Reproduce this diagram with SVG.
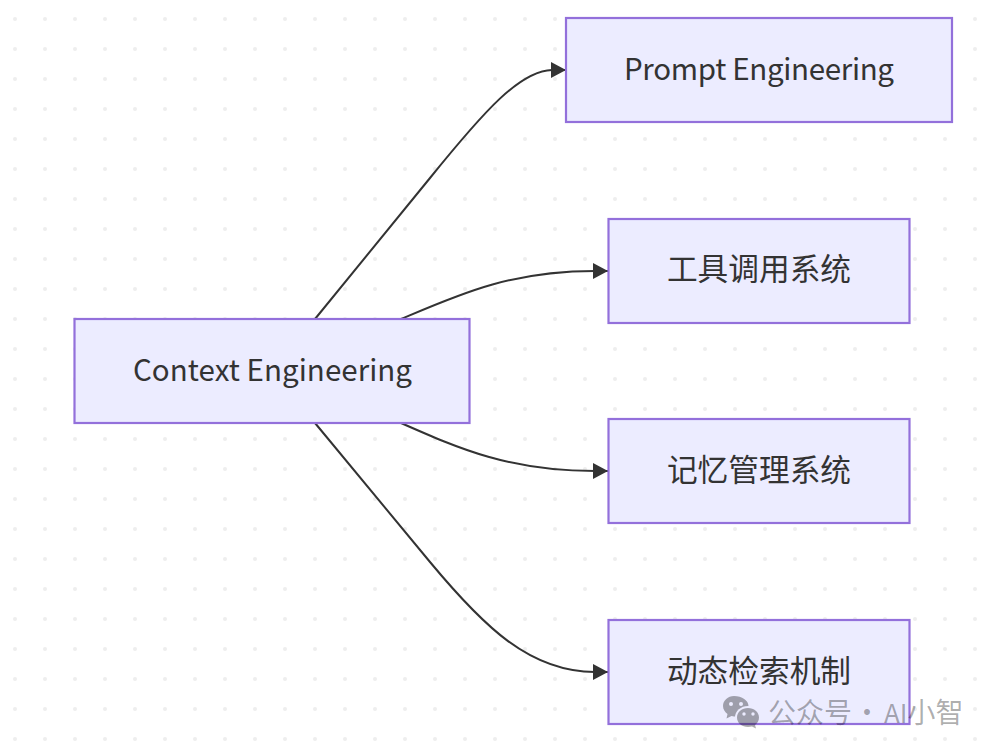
<svg xmlns="http://www.w3.org/2000/svg" width="995" height="753" viewBox="0 0 995 753">
<style>
.n{fill:#ececff;stroke:#9370db;stroke-width:2.2}
.t{font-family:"Noto Sans CJK SC","Noto Sans",sans-serif;fill:#333;text-anchor:middle}
.en{font-size:29.500px}
.zh{font-size:30.700px}
.e{fill:none;stroke:#333;stroke-width:2}
.w{font-family:"Noto Sans CJK SC","Noto Sans",sans-serif;font-size:28px;fill:#000;fill-opacity:.33}
</style>
<defs>
<pattern id="dots" x="0" y="4" width="30" height="30" patternUnits="userSpaceOnUse"><circle cx="15" cy="15" r="2" fill="#eee"/></pattern>
<marker id="a" markerUnits="userSpaceOnUse" markerWidth="16" markerHeight="16" refX="15" refY="8" orient="auto"><path d="M0 0L15 8L0 16z" fill="#333"/></marker>
<mask id="wm" maskUnits="userSpaceOnUse" x="715" y="690" width="50" height="45">
<rect x="715" y="690" width="50" height="45" fill="#fff"/>
<ellipse cx="748" cy="717.500" rx="13" ry="11.500" fill="#000"/>
<circle cx="731" cy="704" r="2" fill="#000"/><circle cx="741" cy="704" r="2" fill="#000"/>
</mask>
<mask id="wf" maskUnits="userSpaceOnUse" x="715" y="690" width="50" height="45">
<rect x="715" y="690" width="50" height="45" fill="#fff"/>
<circle cx="744" cy="714" r="1.700" fill="#000"/><circle cx="753" cy="714" r="1.700" fill="#000"/>
</mask>
</defs>
<rect width="995" height="753" fill="#fff"/>
<rect width="995" height="753" fill="url(#dots)"/>
<g id="connectors">
<path class="e" marker-end="url(#a)" d="M315 319L430 178C485 110 520 71 552 70H566"/>
<path class="e" marker-end="url(#a)" d="M401 319C460 294 510 271 595 271H608"/>
<path class="e" marker-end="url(#a)" d="M401 423C460 449 510 471 595 471H608"/>
<path class="e" marker-end="url(#a)" d="M315 423L430 562C484 627 530 672 595 672H608"/>
</g>
<g id="context"><rect class="n" x="74.500" y="319" width="395" height="104"/><text class="t en" x="272.500" y="381" textLength="279">Context Engineering</text></g>
<g id="prompt"><rect class="n" x="566" y="18" width="386" height="104"/><text class="t en" x="759" y="80" textLength="270">Prompt Engineering</text></g>
<g id="tools"><rect class="n" x="608.500" y="219" width="301" height="104"/><text class="t zh" x="759" y="280">工具调用系统</text></g>
<g id="memory"><rect class="n" x="608.500" y="419" width="301" height="104"/><text class="t zh" x="759" y="481">记忆管理系统</text></g>
<g id="retrieval"><rect class="n" x="608.500" y="620" width="301" height="104"/><text class="t zh" x="759" y="682">动态检索机制</text></g>
<g id="watermark">
<path mask="url(#wm)" fill="#000" fill-opacity=".33" d="M734 696c-6 0-11 4.500-11 10 0 3.500 2 6 4.500 8l-1 4.500 5-2.500c2 .5 3 .5 5 .5 8 0 12-5 12-10.500s-6.500-10-14.500-10z"/>
<path mask="url(#wf)" fill="#000" fill-opacity=".33" d="M748 708c-6 0-11 4-11 9.500s5 9.500 11 9.500c1.500 0 3-.2 4-.5l4 2-1-3.500c2.500-2 4-4.500 4-7.500 0-5.500-5-9.500-11-9.500z"/>
<text class="w" y="723"><tspan x="768">公众号</tspan><tspan x="853">·</tspan><tspan x="884" font-size="26">AI</tspan><tspan x="907.500">小智</tspan></text>
</g>
</svg>
